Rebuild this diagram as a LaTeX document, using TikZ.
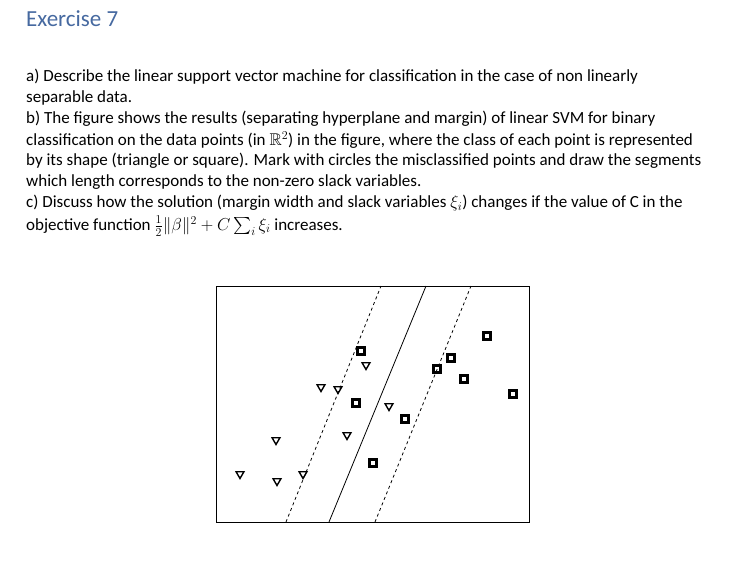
\documentclass[tikz,border=0pt]{standalone}
\usepackage{amsmath,amssymb}
\usepackage{fontspec}
\setmainfont{Carlito}
\usetikzlibrary{shapes.geometric}
\definecolor{ttl}{RGB}{70,105,160}
\begin{document}
\begin{tikzpicture}[x=1pt,y=-1pt,
  txt/.style={anchor=west,inner sep=0pt,font=\fontsize{17}{19}\selectfont},
  sq/.style={draw=black,line width=2.2pt,minimum size=7pt,inner sep=0pt},
  tri/.style={draw=black,line width=1.4pt,regular polygon,regular polygon sides=3,shape border rotate=180,minimum size=9pt,inner sep=0pt}]
\useasboundingbox (0,0) rectangle (739,560);
\node[txt,font=\fontsize{23}{25}\selectfont,text=ttl] (title) at (26,19) {Exercise 7};
\node[txt] (l1) at (26,77) {a) Describe the linear support vector machine for classification in the case of non linearly};
\node[txt] (l2) at (26,98) {separable data.};
\node[txt] (l3) at (26,119) {b) The figure shows the results (separating hyperplane and margin) of linear SVM for binary};
\node[txt] (l4) at (26,140) {classification on the data points (in $\mathbb{R}^2$) in the figure, where the class of each point is represented};
\node[txt] (l5) at (26,161) {by its shape (triangle or square). Mark with circles the misclassified points and draw the segments};
\node[txt] (l6) at (26,182) {which length corresponds to the non-zero slack variables.};
\node[txt] (l7) at (26,203) {c) Discuss how the solution (margin width and slack variables $\xi_i$) changes if the value of C in the};
\node[txt] (l8) at (26,226) {objective function $\tfrac{1}{2}\|\beta\|^2+C\sum_i\xi_i$ increases.};
\node[draw,line width=0.8pt,minimum width=313pt,minimum height=236pt,inner sep=0pt,anchor=north west] (box) at (216,286) {};
\coordinate (d1a) at (286,522); \coordinate (d1b) at (381,286);
\coordinate (sa) at (329,522); \coordinate (sb) at (426,286);
\coordinate (d2a) at (375,522); \coordinate (d2b) at (471,286);
\draw[dashed,line width=0.8pt] (d1a) -- (d1b);
\draw[line width=0.8pt] (sa) -- (sb);
\draw[dashed,line width=0.8pt] (d2a) -- (d2b);
\foreach \n/\x/\y in {s1/361/351,s2/451/358,s3/487/336,s4/437/369,s5/464/379,s6/513/394,s7/356/403,s8/405/419,s9/373/463}
  \node[sq] (\n) at (\x,\y) {};
\foreach \n/\x/\y in {t1/366/365,t2/321/387,t3/338/389,t4/389/406,t5/276/440,t6/347/435,t7/240/474,t8/277/481,t9/303/474}
  \node[tri] (\n) at (\x,\y) {};
\end{tikzpicture}
\end{document}
